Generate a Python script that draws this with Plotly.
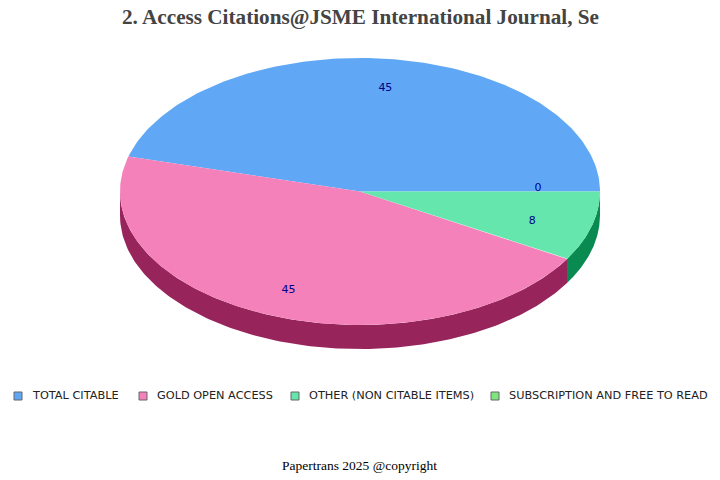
import numpy as np
import plotly.graph_objects as go

# slice data, labels show the rounded value
categories = ['TOTAL CITABLE', 'GOLD OPEN ACCESS', 'OTHER (NON CITABLE ITEMS)', 'SUBSCRIPTION AND FREE TO READ']
values = [45, 45, 8.3, 0]
top_colors = ['#60A8F5', '#F481BA', '#64E6AC', '#7FE67F']
side_colors = ['#1F68B4', '#98245C', '#088A50', '#3FA63F']

# legend layout, in pixels
legend_marker_x = [18, 143, 295, 495]
legend_text_x = [32, 157, 309, 509]

# pie geometry, in pixels
cx, cy = 360, 191.5
rx, ry = 240, 133.5
depth = 24

# nudges so the value labels sit like the original
label_dx = [0, 3, -13, -14]
label_dy = [1, 2, 2, -3]

fig = go.Figure()

total = sum(values)
edges = np.concatenate([[0], np.cumsum(values)]) / total * 2 * np.pi


def arc(a, b, n=160):
    return np.linspace(a, b, n)


# side walls first, only the front half of the pie shows them
for i in range(len(values)):
    a = max(edges[i], np.pi)
    b = edges[i + 1]
    if b <= a:
        continue
    t = arc(a, b)
    x = cx + rx * np.cos(t)
    y = cy - ry * np.sin(t)
    fig.add_trace(go.Scatter(
        x=np.concatenate([x, x[::-1]]),
        y=np.concatenate([y, y[::-1] + depth]),
        mode='lines',
        fill='toself',
        fillcolor=side_colors[i],
        line=dict(width=0),
        hoverinfo='skip',
    ))

# top faces
for i in range(len(values)):
    t = arc(edges[i], edges[i + 1])
    fig.add_trace(go.Scatter(
        x=np.concatenate([[cx], cx + rx * np.cos(t), [cx]]),
        y=np.concatenate([[cy], cy - ry * np.sin(t), [cy]]),
        mode='lines',
        fill='toself',
        fillcolor=top_colors[i],
        line=dict(width=0),
        name=categories[i],
        hoverinfo='name',
    ))

# value labels
mids = (edges[:-1] + edges[1:]) / 2
fig.add_trace(go.Scatter(
    x=cx + 0.8 * rx * np.cos(mids) + np.array(label_dx),
    y=cy - 0.785 * ry * np.sin(mids) + np.array(label_dy),
    mode='text',
    text=[str(round(v)) for v in values],
    textposition='middle center',
    textfont=dict(family='DejaVu Sans', size=11, color='#00008B'),
    hoverinfo='skip',
))

# legend drawn by hand to hold the original spacing
fig.add_trace(go.Scatter(
    x=legend_marker_x,
    y=[396] * len(categories),
    mode='markers',
    marker=dict(symbol='square', size=8, color=top_colors, line=dict(color='#666666', width=1)),
    hoverinfo='skip',
))
for name, tx in zip(categories, legend_text_x):
    fig.add_annotation(
        x=tx, y=395.5, text=name, showarrow=False, xanchor='left', yanchor='middle',
        xshift=-2, font=dict(family='DejaVu Sans', size=11.3, color='#222222'),
    )

fig.add_annotation(
    x=360, y=17, text='<b>2. Access Citations@JSME International Journal, Se</b>',
    showarrow=False, xanchor='center', yanchor='middle',
    font=dict(family='Liberation Serif', size=21.2, color='#444444'),
)
fig.add_annotation(
    x=359, y=465.5, text='Papertrans 2025 @copyright',
    showarrow=False, xanchor='center', yanchor='middle',
    font=dict(family='Liberation Serif', size=13.5, color='#000000'),
)

fig.update_layout(
    width=720,
    height=480,
    margin=dict(l=0, r=0, t=0, b=0),
    paper_bgcolor='white',
    plot_bgcolor='white',
    showlegend=False,
)
fig.update_xaxes(range=[0, 720], visible=False)
fig.update_yaxes(range=[480, 0], visible=False)

# drop the page's default body margin so the figure sits at the window corner
fig.write_html(
    "out.html",
    config=dict(displayModeBar=False),
    post_script="document.body.style.margin='0';document.body.style.overflow='hidden';",
)
